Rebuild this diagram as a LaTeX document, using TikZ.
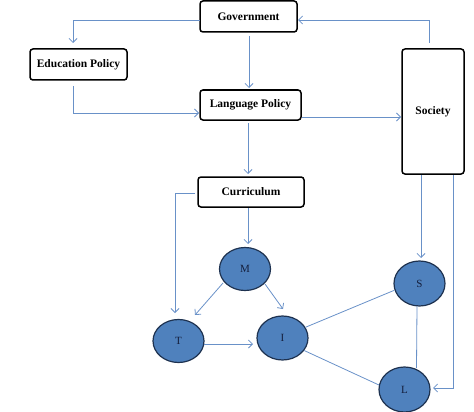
\documentclass[tikz,border=0pt]{standalone}
\usepackage{fontspec}
\setmainfont{Liberation Serif}
\usetikzlibrary{arrows.meta,shapes.geometric}
\definecolor{lnc}{RGB}{105,145,200}
\definecolor{cfill}{RGB}{79,129,189}
\definecolor{cdraw}{RGB}{30,50,80}
\definecolor{ctext}{RGB}{20,30,60}
\tikzset{
  box/.style={draw=black, line width=1.5pt, rounded corners=3pt, fill=white, inner sep=0pt, font=\bfseries\fontsize{11.5}{13}\selectfont},
  circ/.style={ellipse, draw=cdraw, line width=1.2pt, fill=cfill, inner sep=0pt, font=\fontsize{11}{12}\selectfont, text=ctext},
  conn/.style={draw=lnc, line width=0.8pt, -{Straight Barb[length=4pt,width=8pt,line width=0.8pt]}},
  plain/.style={draw=lnc, line width=0.8pt},
}
\begin{document}
\begin{tikzpicture}[x=1pt,y=-1pt]
\useasboundingbox (0,0) rectangle (474,412);
% boxes
\node[box, minimum width=97pt, minimum height=31pt] (gov) at (248.5,16.5) {Government};
\node[box, minimum width=97pt, minimum height=31pt] (edu) at (78.5,64.5) {Education Policy};
\node[box, minimum width=101pt, minimum height=30pt] (lang) at (250.5,105) {Language Policy};
\node[box, minimum width=62pt, minimum height=125pt] (soc) at (433,111.5) {Society};
\node[box, minimum width=106pt, minimum height=30pt] (cur) at (251,192) {Curriculum};
% circles
\node[circ, minimum width=51pt, minimum height=43pt] (M) at (245,269) {M};
\node[circ, minimum width=51pt, minimum height=43pt] (T) at (178.5,341) {T};
\node[circ, minimum width=51pt, minimum height=44pt] (I) at (282.5,338) {I};
\node[circ, minimum width=51pt, minimum height=45pt] (S) at (419.5,283.5) {S};
\node[circ, minimum width=51pt, minimum height=45pt] (L) at (404.5,389.5) {L};
% coordinates
\coordinate (g1) at (200,20);
\coordinate (g1c) at (73,20);
\coordinate (e1) at (73,43);
\coordinate (g2) at (249,36);
\coordinate (l1) at (249,88);
\coordinate (e2) at (73,86);
\coordinate (e2c) at (73,113);
\coordinate (l2) at (199,113);
\coordinate (l3) at (302,117);
\coordinate (s1) at (401,117);
\coordinate (s2) at (429,43);
\coordinate (s2c) at (429,20);
\coordinate (g3) at (298,20);
\coordinate (l4) at (248,123);
\coordinate (c1) at (248,174);
\coordinate (c2) at (195,193);
\coordinate (c2c) at (175,193);
\coordinate (t1) at (175,313);
\coordinate (c3) at (248,208);
\coordinate (m1) at (248,244);
\coordinate (s3) at (421,175);
\coordinate (st) at (421,258);
\coordinate (s4) at (453,175);
\coordinate (s4c) at (453,388);
\coordinate (lr) at (433,388);
\coordinate (sb) at (417,306);
\coordinate (lt) at (416.5,368);
% connectors
\draw[conn] (g1) -- (g1c) -- (e1);
\draw[conn] (g2) -- (l1);
\draw[conn] (e2) -- (e2c) -- (l2);
\draw[conn] (l3) -- (s1);
\draw[conn] (s2) -- (s2c) -- (g3);
\draw[conn] (l4) -- (c1);
\draw[conn] (c2) -- (c2c) -- (t1);
\draw[conn] (c3) -- (m1);
\draw[conn] (s3) -- (st);
\draw[conn] (s4) -- (s4c) -- (lr);
\coordinate (mt1) at (223,283);
\coordinate (mt2) at (195,315);
\coordinate (mi1) at (265,284);
\coordinate (mi2) at (283,309);
\coordinate (ti1) at (204,344);
\coordinate (ti2) at (253,344);
\draw[conn] (mt1) -- (mt2);
\draw[conn] (mi1) -- (mi2);
\draw[conn] (ti1) -- (ti2);
\draw[plain] (I.25) -- (S.195);
\draw[plain] (I.-30) -- (L.170);
\draw[plain] (sb) -- (lt);
\end{tikzpicture}
\end{document}
